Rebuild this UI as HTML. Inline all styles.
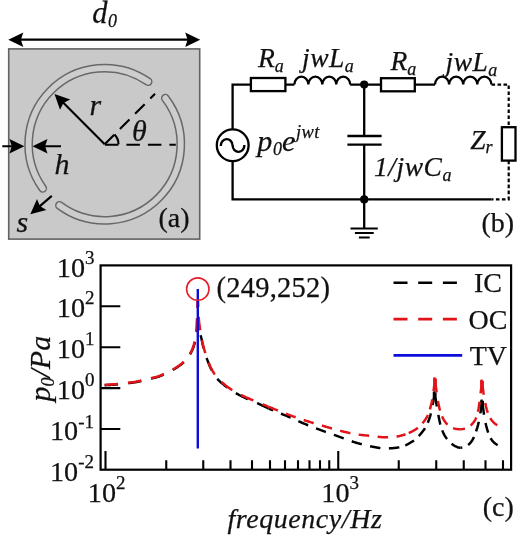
<!DOCTYPE html>
<html lang="en"><head><meta charset="utf-8"><title>Figure</title>
<style>
html,body{margin:0;padding:0;background:#fff;}
svg{display:block}
text{font-family:"Liberation Serif","Times New Roman",serif;fill:#111;stroke:#111;stroke-width:0.25px}
.i{font-style:italic}
</style></head><body>
<svg width="520" height="540" viewBox="0 0 520 540">
<rect width="520" height="540" fill="#fff"/>

<!-- (a) -->
<g>
<rect x="8.7" y="48.9" width="191" height="190.2" fill="#c9c9c9" stroke="#626262" stroke-width="1.6"/>
<g fill="none" stroke-linecap="round">
<path d="M148.13,81.71 A76.1,76.1 0 0 0 42.75,188.39" stroke="#686868" stroke-width="8.8"/>
<path d="M148.13,81.71 A76.1,76.1 0 0 0 42.75,188.39" stroke="#cdcdcd" stroke-width="5.8"/>
<path d="M59.43,205.37 A76.1,76.1 0 0 0 165.32,98.19" stroke="#686868" stroke-width="8.8"/>
<path d="M59.43,205.37 A76.1,76.1 0 0 0 165.32,98.19" stroke="#cdcdcd" stroke-width="5.8"/>
</g>
<!-- d0 arrow -->
<path d="M20,39.7H189" stroke="#000" stroke-width="2.2"/>
<path d="M0,0L-15,-7.2L-12.6,0L-15,7.2Z" fill="#000" transform="translate(8.3,39.7) rotate(180)"/>
<path d="M0,0L-15,-7.2L-12.6,0L-15,7.2Z" fill="#000" transform="translate(200.2,39.7)"/>
<!-- dashed radii -->
<g stroke="#000" stroke-width="2.1" fill="none">
<path d="M104.9,144.7H175.8" stroke-dasharray="13.5 8"/>
<path d="M104.7,144.2L155.05,93.85" stroke-dasharray="13.5 8"/>
<path d="M118.5,144.2A13.8,13.8 0 0 0 114.46,134.44"/>
<!-- r arrow -->
<path d="M104.7,144.2L60.86,100.36"/>
<!-- h arrows -->
<path d="M2.3,146.2H14M61,146.2H44"/>
<!-- s arrow -->
<path d="M51.8,195.9L39,206.9"/>
</g>
<path d="M0,0L-15,-7.2L-12.6,0L-15,7.2Z" fill="#000" transform="translate(54.5,94) rotate(-135)"/>
<path d="M0,0L-15,-7.2L-12.6,0L-15,7.2Z" fill="#000" transform="translate(24.4,146.2)"/>
<path d="M0,0L-15,-7.2L-12.6,0L-15,7.2Z" fill="#000" transform="translate(32.5,146.2) rotate(180)"/>
<path d="M0,0L-15,-7.2L-12.6,0L-15,7.2Z" fill="#000" transform="translate(30.3,214.3) rotate(139.4)"/>
<text class="i" x="92.3" y="22.8" font-size="30.5">d<tspan font-size="18" dy="4.6" dx="0.5">0</tspan></text>
<text class="i" x="89.5" y="114.6" font-size="30">r</text>
<text class="i" x="132" y="141.2" font-size="30">θ</text>
<text class="i" x="54.5" y="173.8" font-size="30">h</text>
<text class="i" x="16.5" y="232" font-size="30">s</text>
<text x="158.5" y="227.2" font-size="28">(a)</text>
</g>

<!-- (b) -->
<g fill="none" stroke="#000" stroke-width="2.3">
<path d="M232.6,129.5V84.6H250.9M285.4,84.6H294.4"/>
<path d="M294.4,84.6 a6.97,7.9 0 0 1 13.95,0 a6.97,7.9 0 0 1 13.95,0 a6.97,7.9 0 0 1 13.95,0 a6.97,7.9 0 0 1 13.95,0"/>
<path d="M350.2,84.6H381M414.8,84.6H435"/>
<path d="M435,84.6 a7.05,7.9 0 0 1 14.1,0 a7.05,7.9 0 0 1 14.1,0 a7.05,7.9 0 0 1 14.1,0 a7.05,7.9 0 0 1 14.1,0"/>
<rect x="250.9" y="78" width="34.5" height="13.1" fill="#fff"/>
<rect x="381" y="78.2" width="33.8" height="13.1" fill="#fff"/>
<path d="M232.6,161.5V199.4H491.5"/>
<circle cx="232.7" cy="145.3" r="15.9" fill="#fff"/>
<path d="M220.8,146 a5.9,6.6 0 0 1 11.8,-0.5 a5.9,6.6 0 0 0 11.8,-0.5" stroke-width="2.4"/>
<path d="M364.2,84.6V136M364.2,144.7V228.5"/>
<path d="M347.4,136H381.6M347.4,144.7H381.6"/>
<path d="M350.5,228.5H377.8M354.9,233H373.7M358.9,237.5H369.7" stroke-width="2.2"/>
<path d="M491.5,84.6H508.7V127M508.7,160.6V199.4H491.5" stroke-dasharray="3.6 2.4" stroke-width="2.2"/>
<rect x="501.9" y="127.2" width="13.6" height="33.4" fill="#fff"/>
</g>
<circle cx="364.2" cy="84.6" r="4.1" fill="#000"/>
<circle cx="364.2" cy="199.4" r="4.1" fill="#000"/>
<g class="i">
<text x="258" y="67.3" font-size="27.5">R<tspan font-size="18" dy="5">a</tspan></text>
<text x="302" y="67.3" font-size="27.5" letter-spacing="0.5">jwL<tspan font-size="18" dy="5">a</tspan></text>
<text x="390.5" y="69.5" font-size="27.5">R<tspan font-size="18" dy="5">a</tspan></text>
<text x="445.5" y="71.2" font-size="27.5" letter-spacing="0.5">jwL<tspan font-size="18" dy="4.5">a</tspan></text>
<text x="257.3" y="151.3" font-size="30">p<tspan font-size="18" dy="4" dx="0.8">0</tspan><tspan dy="-4" font-size="30">e</tspan><tspan font-size="18.5" dy="-13.2" dx="0.5" letter-spacing="0.4">jwt</tspan></text>
<text x="374" y="175.8" font-size="27.5" letter-spacing="0.55">1/jwC<tspan font-size="18" dy="5">a</tspan></text>
<text x="470.3" y="149.4" font-size="27.5">Z<tspan font-size="18" dy="4">r</tspan></text>
</g>
<text x="481.5" y="231.5" font-size="28">(b)</text>

<!-- (c) -->
<g fill="none">
<path d="M104.6,385.2 L105.27,385.18 L105.95,385.15 L106.62,385.12 L107.29,385.09 L107.97,385.06 L108.64,385.02 L109.31,384.99 L109.99,384.95 L110.66,384.9 L111.33,384.86 L112.01,384.82 L112.68,384.77 L113.35,384.72 L114.03,384.67 L114.7,384.62 L115.37,384.57 L116.05,384.51 L116.72,384.45 L117.39,384.39 L118.07,384.32 L118.74,384.25 L119.41,384.17 L120.09,384.09 L120.76,384.01 L121.43,383.93 L122.11,383.85 L122.78,383.77 L123.45,383.68 L124.13,383.6 L124.8,383.52 L125.47,383.44 L126.15,383.36 L126.82,383.28 L127.49,383.21 L128.17,383.13 L128.84,383.05 L129.52,382.98 L130.19,382.9 L130.86,382.82 L131.54,382.74 L132.21,382.66 L132.88,382.57 L133.56,382.48 L134.23,382.38 L134.9,382.28 L135.58,382.17 L136.25,382.05 L136.92,381.93 L137.6,381.79 L138.27,381.65 L138.94,381.5 L139.62,381.34 L140.29,381.18 L140.96,381.01 L141.64,380.84 L142.31,380.67 L142.98,380.49 L143.66,380.32 L144.33,380.14 L145,379.97 L145.68,379.8 L146.35,379.63 L147.02,379.47 L147.7,379.31 L148.37,379.15 L149.04,379 L149.72,378.85 L150.39,378.71 L151.06,378.56 L151.74,378.42 L152.41,378.27 L153.08,378.13 L153.76,377.97 L154.43,377.82 L155.1,377.65 L155.78,377.48 L156.45,377.3 L157.12,377.12 L157.8,376.92 L158.47,376.71 L159.14,376.48 L159.82,376.22 L160.49,375.94 L161.16,375.65 L161.84,375.33 L162.51,375.01 L163.18,374.68 L163.86,374.34 L164.53,374.01 L165.2,373.68 L165.88,373.36 L166.55,373.05 L167.22,372.74 L167.9,372.43 L168.57,372.11 L169.24,371.79 L169.92,371.47 L170.59,371.13 L171.26,370.79 L171.94,370.43 L172.61,370.06 L173.28,369.68 L173.96,369.29 L174.63,368.88 L175.31,368.47 L175.98,368.04 L176.65,367.6 L177.33,367.16 L178,366.7 L178.67,366.24 L179.35,365.76 L180.02,365.27 L180.69,364.76 L181.37,364.24 L182.04,363.7 L182.71,363.14 L183.39,362.57 L184.06,361.99 L184.73,361.39 L185.41,360.76 L186.08,360.08 L186.75,359.35 L187.43,358.54 L188.1,357.61 L188.77,356.56 L189.45,355.41 L190.12,354.2 L190.79,352.95 L191.47,351.67 L192.14,350.29 L192.81,348.77 L193.49,347.04 L194.16,344.94 L194.83,342.42 L195.51,339.58 L196.18,336.19 L196.85,332.57 L197.53,328.86 L197.95,325.5 L198.45,325.5" stroke="#000" stroke-width="2.5" stroke-linejoin="round" stroke-dasharray="13.5 10" stroke-dashoffset="0"/>
<path d="M198.45,325.5 L198.87,328.45 L199.54,331.2 L200.21,333.79 L200.88,336.25 L201.55,339.02 L202.22,342.2 L202.89,345.25 L203.56,347.8 L204.23,350.11 L204.9,352.44 L205.57,354.74 L206.24,356.91 L206.91,358.88 L207.58,360.69 L208.25,362.41 L208.92,364.05 L209.59,365.65 L210.26,367.2 L210.93,368.66 L211.6,369.99 L212.27,371.23 L212.94,372.41 L213.61,373.53 L214.28,374.59 L214.95,375.59 L215.62,376.53 L216.29,377.42 L216.96,378.26 L217.63,379.07 L218.3,379.84 L218.97,380.56 L219.64,381.25 L220.31,381.89 L220.98,382.49 L221.65,383.05 L222.32,383.59 L222.99,384.11 L223.66,384.63 L224.33,385.14 L225,385.67 L225.67,386.19 L226.34,386.71 L227.01,387.22 L227.68,387.73 L228.35,388.23 L229.02,388.72 L229.69,389.2 L230.36,389.67 L231.03,390.12 L231.7,390.56 L232.37,390.99 L233.04,391.42 L233.71,391.83 L234.38,392.24 L235.05,392.64 L235.72,393.03 L236.39,393.41 L237.06,393.79 L237.73,394.16 L238.4,394.53 L239.07,394.88 L239.74,395.24 L240.41,395.58 L241.08,395.93 L241.75,396.26 L242.42,396.6 L243.09,396.92 L243.76,397.25 L244.43,397.57 L245.1,397.88 L245.77,398.19 L246.44,398.5 L247.11,398.8 L247.78,399.1 L248.45,399.39 L249.12,399.67 L249.79,399.95 L250.46,400.23 L251.13,400.51 L251.8,400.79 L252.47,401.06 L253.14,401.34 L253.81,401.63 L254.48,401.91 L255.15,402.2 L255.82,402.5 L256.49,402.8 L257.16,403.1 L257.83,403.4 L258.5,403.71 L259.17,404.02 L259.84,404.33 L260.51,404.64 L261.18,404.96 L261.85,405.28 L262.52,405.59 L263.19,405.91 L263.86,406.23 L264.53,406.54 L265.2,406.86 L265.87,407.17 L266.54,407.49 L267.21,407.8 L267.88,408.11 L268.55,408.42" stroke="#000" stroke-width="2.5" stroke-linejoin="round" stroke-dasharray="13.5 10" stroke-dashoffset="13.47"/>
<path d="M268.55,408.42 L269.22,408.73 L269.89,409.03 L270.56,409.33 L271.23,409.63 L271.9,409.92 L272.57,410.22 L273.24,410.5 L273.91,410.78 L274.58,411.06 L275.25,411.34 L275.92,411.62 L276.59,411.89 L277.26,412.16 L277.93,412.43 L278.6,412.69 L279.27,412.96 L279.94,413.23 L280.61,413.49 L281.28,413.76 L281.95,414.02 L282.62,414.29 L283.29,414.56 L283.96,414.83 L284.63,415.1 L285.3,415.37 L285.97,415.65 L286.64,415.93 L287.31,416.21 L287.98,416.49 L288.65,416.78 L289.32,417.07 L289.99,417.36 L290.66,417.66 L291.33,417.96 L292,418.27 L292.67,418.57 L293.34,418.88 L294.01,419.18 L294.68,419.49 L295.35,419.8 L296.02,420.11 L296.69,420.41 L297.36,420.72 L298.03,421.02 L298.7,421.33 L299.37,421.63 L300.04,421.92 L300.71,422.22 L301.38,422.51 L302.05,422.8 L302.72,423.08 L303.39,423.36 L304.06,423.64 L304.73,423.91 L305.4,424.18 L306.07,424.45 L306.74,424.72 L307.41,424.99 L308.08,425.25 L308.75,425.52 L309.42,425.78 L310.09,426.04 L310.76,426.3 L311.43,426.56 L312.1,426.82 L312.77,427.07 L313.44,427.33 L314.11,427.58 L314.78,427.84 L315.45,428.09 L316.12,428.34 L316.78,428.59 L317.45,428.85 L318.12,429.1 L318.79,429.35 L319.46,429.6 L320.13,429.85 L320.8,430.1 L321.47,430.35 L322.14,430.6 L322.81,430.84 L323.48,431.08 L324.15,431.33 L324.82,431.57 L325.49,431.81 L326.16,432.05 L326.83,432.29 L327.5,432.53 L328.17,432.77 L328.84,433.01 L329.51,433.25 L330.18,433.49 L330.85,433.74 L331.52,433.98 L332.19,434.22 L332.86,434.46 L333.53,434.7 L334.2,434.95 L334.87,435.19 L335.54,435.44 L336.21,435.69 L336.88,435.93 L337.55,436.18 L338.22,436.42 L338.89,436.66 L339.56,436.9 L340.23,437.14 L340.9,437.38 L341.57,437.63 L342.24,437.87 L342.91,438.12 L343.58,438.36 L344.25,438.61 L344.92,438.85 L345.59,439.1 L346.26,439.34 L346.93,439.59 L347.6,439.83 L348.27,440.07 L348.94,440.31 L349.61,440.55 L350.28,440.78 L350.95,441.02 L351.62,441.25 L352.29,441.48 L352.96,441.7 L353.63,441.92 L354.3,442.14 L354.97,442.35 L355.64,442.56 L356.31,442.77 L356.98,442.97 L357.65,443.16 L358.32,443.35 L358.99,443.54 L359.66,443.72 L360.33,443.9 L361,444.08 L361.67,444.26 L362.34,444.44 L363.01,444.61 L363.68,444.78 L364.35,444.95 L365.02,445.11 L365.69,445.28 L366.36,445.43 L367.03,445.59 L367.7,445.74 L368.37,445.88 L369.04,446.03 L369.71,446.16 L370.38,446.3 L371.05,446.43 L371.72,446.55 L372.39,446.67 L373.06,446.79 L373.73,446.92 L374.4,447.05 L375.07,447.18 L375.74,447.31 L376.41,447.43 L377.08,447.56 L377.75,447.68 L378.42,447.8 L379.09,447.91 L379.76,448.02 L380.43,448.12 L381.1,448.21 L381.77,448.28 L382.44,448.35 L383.11,448.41 L383.78,448.45 L384.45,448.48 L385.12,448.5 L385.79,448.5 L386.46,448.49 L387.13,448.48 L387.8,448.45 L388.47,448.43 L389.14,448.39 L389.81,448.35 L390.48,448.31 L391.15,448.26 L391.82,448.2 L392.49,448.15 L393.16,448.09 L393.83,448.02 L394.5,447.96 L395.17,447.89 L395.84,447.82 L396.51,447.74 L397.18,447.64 L397.85,447.52 L398.52,447.39 L399.19,447.24 L399.86,447.07 L400.53,446.9 L401.2,446.7 L401.87,446.5 L402.54,446.29 L403.21,446.07 L403.88,445.85 L404.55,445.62 L405.22,445.37" stroke="#000" stroke-width="2.5" stroke-linejoin="round" stroke-dasharray="10.5 8.5" stroke-dashoffset="5.5"/>
<path d="M435.4,392.6 L434,392.6 L434.03,396.92 L433.36,400.96 L432.69,404.71 L432.02,408.29 L431.35,411.53 L430.68,414.23 L430.01,416.59 L429.34,418.69 L428.67,420.56 L428,422.24 L427.33,423.78 L426.66,425.18 L425.99,426.47 L425.32,427.63 L424.65,428.7 L423.98,429.68 L423.31,430.6 L422.64,431.47 L421.97,432.31 L421.3,433.13 L420.63,433.95 L419.96,434.77 L419.29,435.57 L418.62,436.36 L417.95,437.11 L417.28,437.81 L416.61,438.46 L415.94,439.05 L415.27,439.58 L414.6,440.06 L413.93,440.51 L413.26,440.94 L412.59,441.35 L411.92,441.75 L411.25,442.15 L410.58,442.55 L409.91,442.95 L409.24,443.35 L408.57,443.73 L407.9,444.1 L407.23,444.45 L406.56,444.78 L405.89,445.09 L405.22,445.37" stroke="#000" stroke-width="2.5" stroke-linejoin="round" stroke-dasharray="14 8.5 10 6 10 6.5 10.5 6.5 10.5 6.5 10.5 6.5 10.5 6.5 10.5 6.5" stroke-dashoffset="0"/>
<path d="M435.4,392.6 L435.38,397.12 L436.05,401.47 L436.73,405.65 L437.41,409.68 L438.09,413.47 L438.76,417.13 L439.44,420.56 L440.12,423.45 L440.79,425.94 L441.47,428.17 L442.15,430.12 L442.83,431.79 L443.5,433.26 L444.18,434.59 L444.86,435.8 L445.53,436.9 L446.21,437.9 L446.89,438.82 L447.57,439.67 L448.24,440.47 L448.92,441.21 L449.6,441.9 L450.27,442.54 L450.95,443.13 L451.63,443.7 L452.31,444.25 L452.98,444.78 L453.66,445.26 L454.34,445.7 L455.01,446.07 L455.69,446.38 L456.37,446.68 L457.05,446.97 L457.72,447.23 L458.4,447.45 L459.08,447.61 L459.75,447.69 L460.43,447.69" stroke="#000" stroke-width="2.5" stroke-linejoin="round" stroke-dasharray="14 8.5 10 6 10 6.5 10.5 6.5 10.5 6.5 10.5 6.5 10.5 6.5 10.5 6.5" stroke-dashoffset="0"/>
<path d="M482.8,400.8 L481.4,400.8 L481.42,406.01 L480.75,410.72 L480.07,415.04 L479.39,418.78 L478.71,422.03 L478.04,424.86 L477.36,427.3 L476.68,429.49 L476.01,431.48 L475.33,433.41 L474.65,435.27 L473.97,436.98 L473.3,438.45 L472.62,439.64 L471.94,440.71 L471.27,441.68 L470.59,442.55 L469.91,443.32 L469.23,443.99 L468.56,444.58 L467.88,445.14 L467.2,445.65 L466.53,446.1 L465.85,446.47 L465.17,446.75 L464.49,446.94 L463.82,447.13 L463.14,447.29 L462.46,447.44 L461.79,447.56 L461.11,447.64 L460.43,447.69" stroke="#000" stroke-width="2.5" stroke-linejoin="round" stroke-dasharray="14 8.5 10 6 10 6.5 10.5 6.5 10.5 6.5 10.5 6.5 10.5 6.5 10.5 6.5" stroke-dashoffset="0"/>
<path d="M482.8,400.8 L482.79,406.07 L483.49,410.91 L484.18,415.4 L484.87,419.56 L485.56,423.06 L486.26,426.04 L486.95,428.64 L487.64,430.96 L488.34,433.14 L489.03,435.12 L489.72,436.77 L490.41,438.01 L491.11,439.09 L491.8,440.04 L492.49,440.9 L493.19,441.66 L493.88,442.35 L494.57,442.98 L495.26,443.55 L495.96,444.07 L496.65,444.54 L497.34,444.96 L498.04,445.32 L498.73,445.64 L499.42,445.94 L500.11,446.2 L500.81,446.42 L501.5,446.6" stroke="#000" stroke-width="2.5" stroke-linejoin="round" stroke-dasharray="14 8.5 10 6 10 6.5 10.5 6.5 10.5 6.5 10.5 6.5 10.5 6.5 10.5 6.5" stroke-dashoffset="0"/>
<path d="M104.6,384.8 L105.28,384.78 L105.95,384.75 L106.63,384.72 L107.3,384.69 L107.98,384.66 L108.65,384.62 L109.33,384.59 L110,384.55 L110.68,384.5 L111.35,384.46 L112.03,384.41 L112.7,384.37 L113.38,384.32 L114.06,384.27 L114.73,384.22 L115.41,384.17 L116.08,384.11 L116.76,384.05 L117.43,383.98 L118.11,383.91 L118.78,383.84 L119.46,383.77 L120.13,383.69 L120.81,383.61 L121.48,383.53 L122.16,383.44 L122.83,383.36 L123.51,383.28 L124.19,383.19 L124.86,383.11 L125.54,383.03 L126.21,382.95 L126.89,382.87 L127.56,382.8 L128.24,382.72 L128.91,382.65 L129.59,382.57 L130.26,382.49 L130.94,382.41 L131.61,382.33 L132.29,382.25 L132.97,382.16 L133.64,382.06 L134.32,381.97 L134.99,381.86 L135.67,381.76 L136.34,381.64 L137.02,381.51 L137.69,381.37 L138.37,381.23 L139.04,381.07 L139.72,380.92 L140.39,380.75 L141.07,380.58 L141.74,380.41 L142.42,380.24 L143.1,380.07 L143.77,379.89 L144.45,379.71 L145.12,379.54 L145.8,379.37 L146.47,379.2 L147.15,379.04 L147.82,378.88 L148.5,378.72 L149.17,378.57 L149.85,378.43 L150.52,378.28 L151.2,378.14 L151.88,377.99 L152.55,377.84 L153.23,377.69 L153.9,377.54 L154.58,377.38 L155.25,377.22 L155.93,377.04 L156.6,376.86 L157.28,376.67 L157.95,376.47 L158.63,376.26 L159.3,376.02 L159.98,375.76 L160.66,375.47 L161.33,375.17 L162.01,374.85 L162.68,374.53 L163.36,374.19 L164.03,373.86 L164.71,373.52 L165.38,373.2 L166.06,372.88 L166.73,372.57 L167.41,372.25 L168.08,371.94 L168.76,371.62 L169.43,371.3 L170.11,370.97 L170.79,370.64 L171.46,370.29 L172.14,369.93 L172.81,369.55 L173.49,369.16 L174.16,368.77 L174.84,368.36 L175.51,367.93 L176.19,367.5 L176.86,367.06 L177.54,366.61 L178.21,366.15 L178.89,365.68 L179.57,365.2 L180.24,364.7 L180.92,364.19 L181.59,363.66 L182.27,363.12 L182.94,362.55 L183.62,361.97 L184.29,361.39 L184.97,360.78 L185.64,360.13 L186.32,359.44 L186.99,358.67 L187.67,357.82 L188.34,356.83 L189.02,355.72 L189.7,354.52 L190.37,353.25 L191.05,351.93 L191.72,350.56 L192.4,349.03 L193.07,347.27 L193.75,345.18 L194.42,342.52 L195.1,339.16 L195.77,334.84 L196.45,328.58 L197.12,317.65 L197.55,301 L198.05,301" stroke="#e2141a" stroke-width="2.5" stroke-linejoin="round" stroke-dasharray="13.5 10" stroke-dashoffset="0"/>
<path d="M198.05,301 L198.47,314.97 L199.14,322.19 L199.81,327.66 L200.48,332.37 L201.15,336.34 L201.82,339.79 L202.49,342.87 L203.16,345.63 L203.83,348.05 L204.5,350.35 L205.17,352.68 L205.84,354.94 L206.51,357.03 L207.18,358.93 L207.85,360.71 L208.52,362.38 L209.19,363.99 L209.86,365.55 L210.53,367.04 L211.2,368.42 L211.87,369.69 L212.54,370.89 L213.21,372.03 L213.88,373.11 L214.55,374.13 L215.22,375.09 L215.89,375.98 L216.56,376.81 L217.23,377.6 L217.9,378.34 L218.57,379.06 L219.24,379.74 L219.91,380.41 L220.58,381.06 L221.25,381.69 L221.92,382.3 L222.59,382.89 L223.26,383.46 L223.93,384.02 L224.6,384.56 L225.27,385.1 L225.94,385.63 L226.61,386.15 L227.28,386.67 L227.95,387.17 L228.62,387.66 L229.29,388.14 L229.96,388.6 L230.63,389.06 L231.3,389.5 L231.97,389.93 L232.64,390.35 L233.31,390.76 L233.98,391.16 L234.65,391.55 L235.32,391.94 L235.99,392.31 L236.66,392.68 L237.33,393.05 L238,393.41 L238.67,393.76 L239.34,394.11 L240.01,394.45 L240.68,394.79 L241.35,395.12 L242.02,395.45 L242.69,395.77 L243.36,396.09 L244.03,396.4 L244.7,396.71 L245.37,397.02 L246.04,397.32 L246.71,397.62 L247.38,397.91 L248.05,398.2 L248.72,398.48 L249.39,398.76 L250.06,399.04 L250.73,399.31 L251.4,399.59 L252.07,399.86 L252.74,400.13 L253.41,400.4 L254.08,400.67 L254.75,400.95 L255.42,401.23 L256.09,401.51 L256.76,401.79 L257.44,402.07 L258.11,402.35 L258.78,402.63 L259.45,402.92 L260.12,403.2 L260.79,403.48 L261.46,403.77 L262.13,404.05 L262.8,404.34 L263.47,404.62 L264.14,404.9 L264.81,405.18 L265.48,405.47 L266.15,405.75 L266.82,406.03 L267.49,406.31 L268.16,406.59" stroke="#e2141a" stroke-width="2.5" stroke-linejoin="round" stroke-dasharray="13.5 10" stroke-dashoffset="7.61"/>
<path d="M268.16,406.59 L268.83,406.87 L269.5,407.15 L270.17,407.43 L270.84,407.7 L271.51,407.98 L272.18,408.25 L272.85,408.52 L273.52,408.79 L274.19,409.07 L274.86,409.34 L275.53,409.61 L276.2,409.88 L276.87,410.15 L277.54,410.42 L278.21,410.69 L278.88,410.96 L279.55,411.23 L280.22,411.49 L280.89,411.76 L281.56,412.02 L282.23,412.29 L282.9,412.55 L283.57,412.81 L284.24,413.07 L284.91,413.33 L285.58,413.59 L286.25,413.84 L286.92,414.09 L287.59,414.35 L288.26,414.6 L288.93,414.85 L289.6,415.09 L290.27,415.34 L290.94,415.59 L291.61,415.83 L292.28,416.08 L292.95,416.32 L293.62,416.56 L294.29,416.8 L294.96,417.04 L295.63,417.28 L296.3,417.52 L296.97,417.75 L297.64,417.98 L298.31,418.22 L298.98,418.45 L299.65,418.68 L300.32,418.91 L300.99,419.13 L301.66,419.36 L302.33,419.58 L303,419.8 L303.67,420.02 L304.34,420.24 L305.01,420.45 L305.68,420.67 L306.35,420.88 L307.02,421.09 L307.69,421.3 L308.36,421.51 L309.03,421.71 L309.7,421.92 L310.37,422.12 L311.04,422.33 L311.71,422.53 L312.38,422.73 L313.05,422.93 L313.72,423.13 L314.39,423.33 L315.06,423.53 L315.73,423.73 L316.4,423.93 L317.07,424.13 L317.74,424.33 L318.41,424.53 L319.08,424.73 L319.75,424.93 L320.42,425.12 L321.09,425.32 L321.76,425.52 L322.43,425.72 L323.1,425.91 L323.77,426.11 L324.44,426.3 L325.11,426.5 L325.78,426.69 L326.45,426.88 L327.12,427.08 L327.79,427.27 L328.46,427.46 L329.13,427.66 L329.8,427.85 L330.47,428.04 L331.14,428.23 L331.81,428.43 L332.48,428.62 L333.15,428.81 L333.82,429.01 L334.49,429.2 L335.16,429.4 L335.83,429.6 L336.5,429.81 L337.17,430 L337.84,430.19 L338.51,430.37 L339.18,430.55 L339.85,430.71 L340.52,430.88 L341.19,431.05 L341.86,431.21 L342.53,431.38 L343.2,431.54 L343.87,431.7 L344.54,431.86 L345.21,432.02 L345.88,432.18 L346.55,432.34 L347.22,432.49 L347.89,432.64 L348.56,432.79 L349.23,432.93 L349.9,433.08 L350.57,433.22 L351.24,433.36 L351.91,433.49 L352.58,433.62 L353.25,433.75 L353.92,433.87 L354.59,433.99 L355.26,434.1 L355.93,434.22 L356.6,434.32 L357.27,434.42 L357.94,434.52 L358.61,434.62 L359.28,434.7 L359.95,434.79 L360.62,434.87 L361.29,434.95 L361.96,435.02 L362.63,435.1 L363.3,435.17 L363.97,435.23 L364.64,435.3 L365.31,435.37 L365.98,435.43 L366.65,435.49 L367.32,435.56 L367.99,435.62 L368.66,435.68 L369.33,435.74 L370,435.81 L370.67,435.87 L371.34,435.94 L372.01,436 L372.68,436.07 L373.35,436.15 L374.02,436.23 L374.69,436.31 L375.36,436.39 L376.04,436.48 L376.71,436.57 L377.38,436.65 L378.05,436.74 L378.72,436.82 L379.39,436.9 L380.06,436.97 L380.73,437.04 L381.4,437.11 L382.07,437.16 L382.74,437.21 L383.41,437.25 L384.08,437.28 L384.75,437.29 L385.42,437.3 L386.09,437.3 L386.76,437.28 L387.43,437.27 L388.1,437.24 L388.77,437.21 L389.44,437.17 L390.11,437.13 L390.78,437.08 L391.45,437.03 L392.12,436.98 L392.79,436.92 L393.46,436.86 L394.13,436.79 L394.8,436.72 L395.47,436.66 L396.14,436.59 L396.81,436.5 L397.48,436.4 L398.15,436.28 L398.82,436.15 L399.49,436 L400.16,435.85 L400.83,435.68 L401.5,435.5 L402.17,435.31 L402.84,435.12 L403.51,434.93 L404.18,434.73 L404.85,434.52 L405.52,434.31" stroke="#e2141a" stroke-width="2.5" stroke-linejoin="round" stroke-dasharray="10.5 8.5" stroke-dashoffset="0"/>
<path d="M435.7,378.6 L434.3,378.6 L434.33,384.68 L433.66,390.07 L432.99,394.94 L432.32,399.09 L431.65,402.49 L430.98,405.43 L430.31,407.97 L429.64,410.21 L428.97,412.25 L428.3,414.04 L427.63,415.55 L426.96,416.85 L426.29,418.02 L425.62,419.09 L424.95,420.07 L424.28,420.99 L423.61,421.86 L422.94,422.7 L422.27,423.51 L421.6,424.28 L420.93,425.01 L420.26,425.7 L419.59,426.35 L418.92,426.95 L418.25,427.5 L417.58,428.02 L416.91,428.52 L416.24,428.99 L415.57,429.44 L414.9,429.87 L414.23,430.27 L413.56,430.66 L412.89,431.03 L412.22,431.39 L411.55,431.73 L410.88,432.06 L410.21,432.38 L409.54,432.7 L408.87,433 L408.2,433.29 L407.53,433.56 L406.86,433.83 L406.19,434.07 L405.52,434.31" stroke="#e2141a" stroke-width="2.5" stroke-linejoin="round" stroke-dasharray="14 8.5 10 6 10 6.5 10.5 6.5 10.5 6.5 10.5 6.5 10.5 6.5 10.5 6.5" stroke-dashoffset="0"/>
<path d="M435.7,378.6 L435.68,384.89 L436.36,390.48 L437.04,395.49 L437.72,399.93 L438.41,403.64 L439.09,406.9 L439.77,409.68 L440.45,411.97 L441.13,413.98 L441.81,415.75 L442.49,417.28 L443.17,418.61 L443.86,419.82 L444.54,420.93 L445.22,421.93 L445.9,422.81 L446.58,423.58 L447.26,424.28 L447.94,424.93 L448.62,425.52 L449.3,426.05 L449.99,426.52 L450.67,426.93 L451.35,427.28 L452.03,427.62 L452.71,427.92 L453.39,428.2 L454.07,428.44 L454.75,428.64 L455.43,428.79 L456.12,428.9 L456.8,429.01 L457.48,429.11 L458.16,429.19 L458.84,429.26 L459.52,429.29 L460.2,429.3" stroke="#e2141a" stroke-width="2.5" stroke-linejoin="round" stroke-dasharray="14 8.5 10 6 10 6.5 10.5 6.5 10.5 6.5 10.5 6.5 10.5 6.5 10.5 6.5" stroke-dashoffset="0"/>
<path d="M482.7,380.8 L481.3,380.8 L481.32,387.27 L480.64,393.25 L479.96,398.83 L479.28,403.83 L478.59,408.38 L477.91,411.81 L477.23,414.57 L476.55,416.79 L475.87,418.44 L475.19,419.79 L474.51,420.94 L473.83,421.94 L473.14,422.82 L472.46,423.63 L471.78,424.39 L471.1,425.07 L470.42,425.69 L469.74,426.23 L469.06,426.69 L468.38,427.11 L467.7,427.5 L467.01,427.86 L466.33,428.17 L465.65,428.42 L464.97,428.61 L464.29,428.75 L463.61,428.89 L462.93,429.02 L462.25,429.13 L461.57,429.21 L460.88,429.27 L460.2,429.3" stroke="#e2141a" stroke-width="2.5" stroke-linejoin="round" stroke-dasharray="14 8.5 10 6 10 6.5 10.5 6.5 10.5 6.5 10.5 6.5 10.5 6.5 10.5 6.5" stroke-dashoffset="0"/>
<path d="M482.7,380.8 L482.69,387.03 L483.38,392.24 L484.07,396.68 L484.76,400.6 L485.45,404.02 L486.14,407.09 L486.83,409.8 L487.52,412.05 L488.21,413.93 L488.9,415.57 L489.59,416.98 L490.28,418.14 L490.97,419.19 L491.66,420.15 L492.34,421.02 L493.03,421.8 L493.72,422.51 L494.41,423.14 L495.1,423.71 L495.79,424.22 L496.48,424.69 L497.17,425.09 L497.86,425.44 L498.55,425.74 L499.24,426.02 L499.93,426.27 L500.62,426.49 L501.31,426.67 L502,426.8" stroke="#e2141a" stroke-width="2.5" stroke-linejoin="round" stroke-dasharray="14 8.5 10 6 10 6.5 10.5 6.5 10.5 6.5 10.5 6.5 10.5 6.5 10.5 6.5" stroke-dashoffset="0"/>

<path d="M197.8,289V448.5" stroke="#0c0cdc" stroke-width="2.4"/>
<circle cx="197.8" cy="289.1" r="11.2" stroke="#e4202a" stroke-width="1.6"/>
<rect x="100.6" y="265.4" width="410.5" height="204.3" stroke="#000" stroke-width="2.2"/>
<path d="M166.25,469.7V460.3M203.25,469.7V460.3M230.5,469.7V460.3M252,469.7V460.3M270,469.7V460.3M285,469.7V460.3M298,469.7V460.3M309.5,469.7V460.3M320,469.7V460.3M329.25,469.7V460.3M398.75,469.7V460.3M436.25,469.7V460.3M463.75,469.7V460.3M485.5,469.7V460.3M503,469.7V460.3M105.5,469.7V451M338.25,469.7V451M100.6,306.3H120.3M100.6,347.2H120.3M100.6,388.1H120.3M100.6,429H120.3" stroke="#000" stroke-width="2.1"/>
<path d="M393.5,282.7H457" stroke="#000" stroke-width="2.6" stroke-dasharray="14 10.7"/>
<path d="M393.5,319.1H457" stroke="#e2141a" stroke-width="2.6" stroke-dasharray="14 10.7"/>
<path d="M393.5,355.4H462.2" stroke="#0c0cdc" stroke-width="2.6"/>
</g>
<g font-size="28.2">
<text x="56.8" y="276.5">10<tspan font-size="19" dy="-12.8">3</tspan></text>
<text x="56.8" y="316.9">10<tspan font-size="19" dy="-12.8">2</tspan></text>
<text x="56.8" y="357.8">10<tspan font-size="19" dy="-12.8">1</tspan></text>
<text x="56.8" y="398.8">10<tspan font-size="19" dy="-12.8">0</tspan></text>
<text x="50" y="440.3">10<tspan font-size="19" dy="-12.8">-1</tspan></text>
<text x="50" y="481.2">10<tspan font-size="19" dy="-12.8">-2</tspan></text>
<text x="87.8" y="502">10<tspan font-size="19" dy="-12.8">2</tspan></text>
<text x="321.3" y="502">10<tspan font-size="19" dy="-12.8">3</tspan></text>
</g>
<text class="i" font-size="30" transform="translate(49.6,401.5) rotate(-90)">p<tspan font-size="18" dy="4">0</tspan><tspan dy="-4" font-size="30">/Pa</tspan></text>
<text class="i" x="227.5" y="528" font-size="28" letter-spacing="0.55">frequency/Hz</text>
<text x="482.8" y="516.2" font-size="28">(c)</text>
<text x="216.5" y="296.7" font-size="28.5" letter-spacing="0.25">(249,252)</text>
<text x="488" y="292" font-size="28" text-anchor="middle">IC</text>
<text x="488" y="329" font-size="28" text-anchor="middle">OC</text>
<text x="488.3" y="365.4" font-size="28" text-anchor="middle">TV</text>
</svg>
</body></html>
